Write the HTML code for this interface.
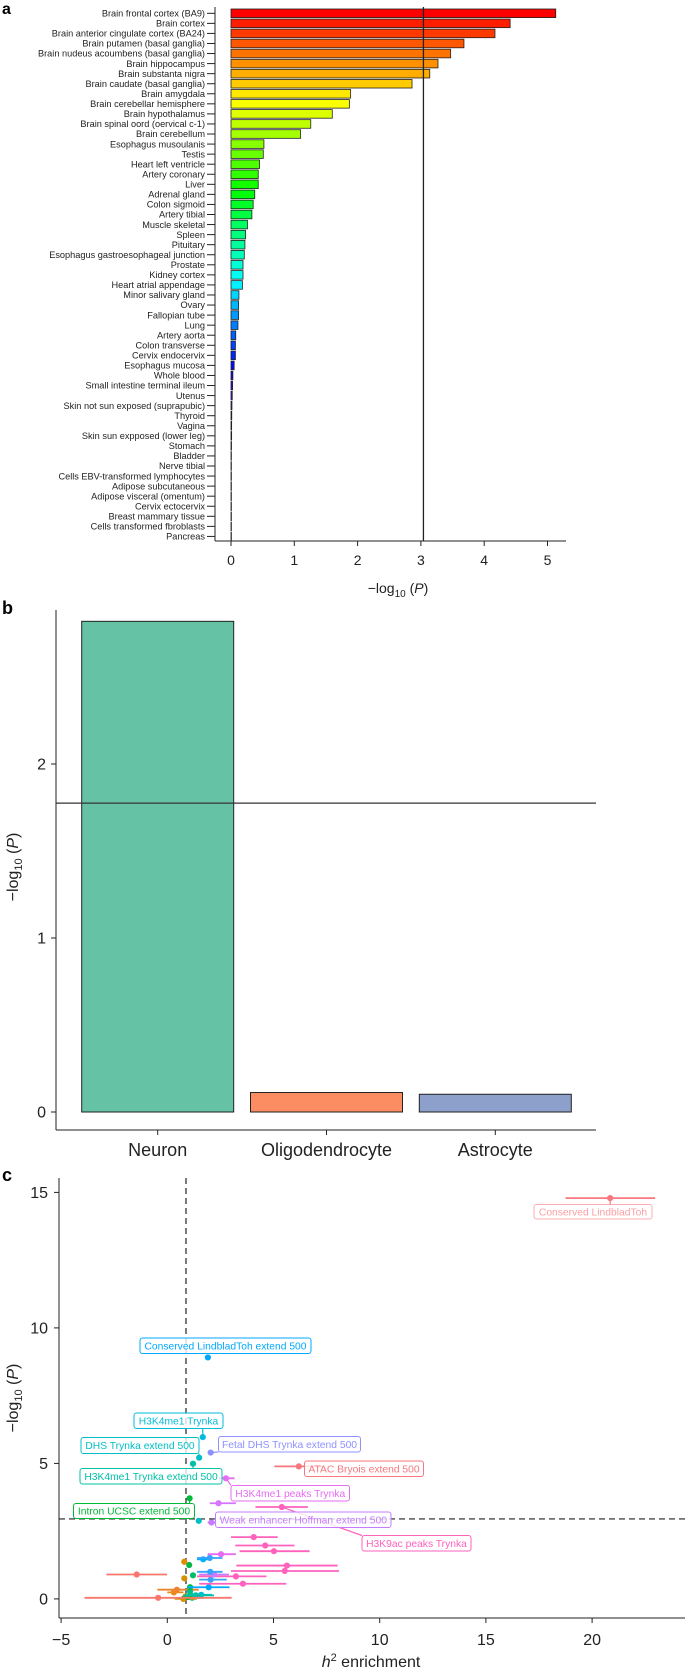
<!DOCTYPE html>
<html><head><meta charset="utf-8">
<style>
html,body{margin:0;padding:0;background:#fff;}
svg{display:block;font-family:"Liberation Sans",Arial,sans-serif;}
</style></head>
<body>
<svg id="fig" width="685" height="1669" viewBox="0 0 685 1669" xmlns="http://www.w3.org/2000/svg">
<text x="2" y="14" font-size="16" font-weight="bold">a</text>
<text x="2" y="614" font-size="18" font-weight="bold">b</text>
<text x="2" y="1181" font-size="18" font-weight="bold">c</text>
<g id="pa"></g>
<g id="pb"></g>
<g id="pc"></g>
</svg>
<script>
// ---------- Panel a data ----------
const tissues = ["Brain frontal cortex (BA9)","Brain cortex","Brain anterior cingulate cortex (BA24)","Brain putamen (basal ganglia)","Brain nudeus acoumbens (basal ganglia)","Brain hippocampus","Brain substanta nigra","Brain caudate (basal ganglia)","Brain amygdala","Brain cerebellar hemisphere","Brain hypothalamus","Brain spinal oord (oervical c-1)","Brain cerebellum","Esophagus musoulanis","Testis","Heart left ventricle","Artery coronary","Liver","Adrenal gland","Colon sigmoid","Artery tibial","Muscle skeletal","Spleen","Pituitary","Esophagus gastroesophageal junction","Prostate","Kidney cortex","Heart atrial appendage","Minor salivary gland","Ovary","Fallopian tube","Lung","Artery aorta","Colon transverse","Cervix endocervix","Esophagus mucosa","Whole blood","Small intestine terminal ileum","Utenus","Skin not sun exposed (suprapubic)","Thyroid","Vagina","Skin sun expposed (lower leg)","Stomach","Bladder","Nerve tibial","Cells EBV-transformed lymphocytes","Adipose subcutaneous","Adipose visceral (omentum)","Cervix ectocervix","Breast mammary tissue","Cells transformed fbroblasts","Pancreas"];
const tissueP = [5.13,4.41,4.17,3.68,3.47,3.27,3.14,2.86,1.89,1.87,1.60,1.26,1.10,0.52,0.51,0.45,0.43,0.43,0.375,0.35,0.33,0.26,0.23,0.22,0.21,0.19,0.19,0.18,0.125,0.12,0.12,0.11,0.075,0.07,0.07,0.05,0.03,0.025,0.02,0.015,0.012,0.01,0.01,0.008,0.006,0.005,0.004,0.004,0.003,0.003,0.002,0.002,0.001];
const tissueTicks = [0,1,2,3,4,5];
const tissueThreshold = 3.04;

// ---------- Panel b data ----------
const cellTypes = ["Neuron","Oligodendrocyte","Astrocyte"];
const cellP = [2.82,0.112,0.102];
const cellColors = ["#66c2a5","#fc8d62","#8da0cb"];
const cellTicks = [0,1,2];
const cellThreshold = 1.775;

// ---------- Panel c data ----------
const enrX  = [20.85,1.91,1.67,1.50,2.04,1.21,6.19,2.76,1.05,5.39,2.08, 2.41,1.48,4.07,4.61,5.02,2.53,2.00,1.69,5.63,5.53,0.80,1.03,-1.44,2.02,2.20,3.23,2.04,1.21,0.80,3.56,1.95,1.07,1.07,0.45,0.31,-0.43,1.34,0.97,0.76,1.17,0.86,1.60,1.25];
const enrLo = [18.75,1.91,1.67,1.50,1.95,1.21,5.04,2.40,1.05,4.15,1.90, 2.00,1.48,3.00,3.20,3.40,1.90,1.40,1.40,3.25,3.00,0.80,1.03,-2.87,1.40,1.50,1.40,1.50,1.21,0.80,1.50,0.95,1.07,1.07,-0.47,0.00,-3.90,0.76,0.70,0.35,0.80,0.70,1.20,0.90];
const enrHi = [22.97,1.91,1.67,1.50,2.20,1.21,7.34,3.17,1.05,6.62,2.30, 3.23,1.48,5.20,5.99,6.70,3.23,2.60,1.99,8.02,8.08,0.80,1.03,-0.01,2.60,2.90,4.67,2.80,1.21,0.80,5.60,2.93,1.07,1.07,1.48,0.76,3.03,2.20,1.30,1.40,1.70,1.10,2.10,1.70];
const enrP  = [14.79,8.91,5.97,5.21,5.40,4.99,4.89,4.45,3.71,3.39,2.82, 3.53,2.88,2.28,1.97,1.76,1.65,1.51,1.46,1.23,1.03,1.37,1.25,0.90,1.00,0.90,0.83,0.71,0.87,0.76,0.56,0.43,0.43,0.27,0.34,0.24,0.04,0.13,0.07,0.00,0.04,0.09,0.15,0.10];
const enrColor = ["#f8767d","#00a9ff","#00bcd8","#00bfc4","#8f91ff","#00c0a8","#f8767d","#e76bf3","#00ba38","#ff62bc","#c77cff", "#d575fe","#00bfc4","#ff62bc","#ff62bc","#ff62bc","#e76bf3","#35a2ff","#00b0f6","#ff62bc","#ff62bc","#e08b00","#00b84a","#f8766d","#35a2ff","#c77cff","#ff62bc","#35a2ff","#00be67","#d39200","#ff62bc","#00a9ff","#00bb4e","#00c08b","#f0842d","#e98a1c","#f8766d","#00c1a3","#00ba38","#d89000","#00c0b0","#c99800","#00bcd8","#00b0f6"];
const enrLabels = ["Conserved LindbladToh","Conserved LindbladToh extend 500","H3K4me1 Trynka","DHS Trynka extend 500","Fetal DHS Trynka extend 500","H3K4me1 Trynka extend 500","ATAC Bryois extend 500","H3K4me1 peaks Trynka","Intron UCSC extend 500","H3K9ac peaks Trynka","Weak enhancer Hoffman extend 500"];
const enrXTicks = [-5,0,5,10,15,20];
const enrYTicks = [0,5,10,15];
const enrVLine = 0.88;
const enrHLine = 2.95;
// label box layout (pixels; layout only)
const labelBoxes = [[534,1204.5,118,14.5],[140,1338,171,15.5],[134,1413,89,15.5],[81,1437.5,118,16],[218.5,1436.5,142,15.5],[80,1468.5,142,15.5],[304.5,1461,119,15.5],[231,1485.5,118.5,15.5],[73.5,1503.5,121,15],[362,1535.5,109,15.5],[215.5,1512,175.5,15.5]];

const NS="http://www.w3.org/2000/svg";
function mk(parent,tag,attrs){const e=document.createElementNS(NS,tag);for(const k in attrs)e.setAttribute(k,attrs[k]);parent.appendChild(e);return e;}

// ===== Panel a =====
(function(){
const g=document.getElementById('pa');
const x=v=>231+v*63.3;
const y=i=>13.3+i*10.06;
let e;
tissues.forEach((t,i)=>{
  const hue=i/53*360;
  e=mk(g,'rect',{x:x(0),y:y(i)-4.3,width:Math.max(x(tissueP[i])-x(0),0.4),height:8.6,fill:`hsl(${hue},100%,50%)`,stroke:'#222','stroke-width':0.8});
  
  
  e=mk(g,'line',{x1:207,x2:215,y1:y(i),y2:y(i),stroke:'#222','stroke-width':1});
  
  
  e=mk(g,'text',{x:205,y:y(i)+3.2,'font-size':9.2,'text-anchor':'end',fill:'#222'});
  e.textContent=t;
  
  
});
e=mk(g,'line',{x1:x(tissueThreshold),x2:x(tissueThreshold),y1:7,y2:541,stroke:'#222','stroke-width':1.3});


e=mk(g,'line',{x1:215,x2:215,y1:7,y2:541,stroke:'#222','stroke-width':1});


e=mk(g,'line',{x1:215,x2:566,y1:541,y2:541,stroke:'#222','stroke-width':1});


tissueTicks.forEach(v=>{
  e=mk(g,'line',{x1:x(v),x2:x(v),y1:541,y2:546,stroke:'#222'});
  
  
  e=mk(g,'text',{x:x(v),y:565,'font-size':14,'text-anchor':'middle',fill:'#222'});
  e.textContent=v;
  
  
});
e=mk(g,'text',{x:398,y:593,'font-size':14,'text-anchor':'middle',fill:'#222'});
e.innerHTML='−log<tspan font-size="10" dy="4">10</tspan><tspan dy="-4"> (</tspan><tspan font-style="italic">P</tspan>)';


})();

// ===== Panel b =====
(function(){
const g=document.getElementById('pb');
const y=v=>1112-v*174;
const cx=i=>157.7+i*168.8;
let e;
cellTypes.forEach((c,i)=>{
  e=mk(g,'rect',{x:cx(i)-76,y:y(cellP[i]),width:152,height:y(0)-y(cellP[i]),fill:cellColors[i],stroke:'#222','stroke-width':1});
  
  
  e=mk(g,'line',{x1:cx(i),x2:cx(i),y1:1130,y2:1135,stroke:'#222'});
  
  
  e=mk(g,'text',{x:cx(i),y:1156,'font-size':18,'text-anchor':'middle',fill:'#222'});
  e.textContent=c;
  
  
});
e=mk(g,'line',{x1:56,x2:596,y1:y(cellThreshold),y2:y(cellThreshold),stroke:'#333','stroke-width':1.3});


e=mk(g,'line',{x1:56,x2:56,y1:610,y2:1130,stroke:'#222'});


e=mk(g,'line',{x1:56,x2:596,y1:1130,y2:1130,stroke:'#222'});


cellTicks.forEach(v=>{
  e=mk(g,'line',{x1:51,x2:56,y1:y(v),y2:y(v),stroke:'#222'});
  
  
  e=mk(g,'text',{x:46,y:y(v)+5.5,'font-size':16,'text-anchor':'end',fill:'#222'});
  e.textContent=v;
  
  
});
e=mk(g,'text',{x:0,y:0,'font-size':16,'text-anchor':'middle',fill:'#222',transform:'translate(18,867) rotate(-90)'});
e.innerHTML='−log<tspan font-size="11" dy="4">10</tspan><tspan dy="-4"> (</tspan><tspan font-style="italic">P</tspan>)';


})();

// ===== Panel c =====
(function(){
const g=document.getElementById('pc');
const x=v=>167.3+v*21.24;
const y=v=>1598.9-v*27.1;
let e;
e=mk(g,'line',{x1:x(enrVLine),x2:x(enrVLine),y1:1178,y2:1618,stroke:'#222','stroke-width':1.2,'stroke-dasharray':'6,4'});


e=mk(g,'line',{x1:59,x2:685,y1:y(enrHLine),y2:y(enrHLine),stroke:'#222','stroke-width':1.2,'stroke-dasharray':'6,4'});


const order=[...enrX.keys()].reverse();
order.forEach(i=>{
  const c=enrColor[i];
  e=mk(g,'line',{x1:x(enrLo[i]),x2:x(enrHi[i]),y1:y(enrP[i]),y2:y(enrP[i]),stroke:c,'stroke-width':1.8});
  
  
  e=mk(g,'circle',{cx:x(enrX[i]),cy:y(enrP[i]),r:3.1,fill:c});
  
  
});
enrLabels.forEach((t,i)=>{
  const [bx,by,bw,bh]=labelBoxes[i];
  const px=x(enrX[i]),py=y(enrP[i]);
  const nx=Math.min(Math.max(px,bx),bx+bw),ny=Math.min(Math.max(py,by),by+bh);
  if(Math.hypot(px-nx,py-ny)>4){
    e=mk(g,'line',{x1:px,y1:py,x2:nx,y2:ny,stroke:enrColor[i],'stroke-width':1.2});
    
    
  }
  e=mk(g,'rect',{x:bx,y:by,width:bw,height:bh,rx:2.5,fill:'rgba(255,255,255,0.8)',stroke:enrColor[i],'stroke-width':1,'stroke-opacity':i==0?0.6:1});
  
  
  e=mk(g,'text',{x:bx+bw/2,y:by+bh/2+3.7,'font-size':10.3,'text-anchor':'middle',fill:enrColor[i],'fill-opacity':i==0?0.7:1});
  e.textContent=t;
  
  
});
e=mk(g,'line',{x1:59,x2:59,y1:1178,y2:1618,stroke:'#222'});


e=mk(g,'line',{x1:59,x2:685,y1:1618,y2:1618,stroke:'#222'});


enrXTicks.forEach(v=>{
  e=mk(g,'line',{x1:x(v),x2:x(v),y1:1618,y2:1623,stroke:'#222'});
  
  
  e=mk(g,'text',{x:x(v),y:1645,'font-size':16,'text-anchor':'middle',fill:'#222'});
  e.textContent=v<0?'−'+(-v):v;
  
  
});
enrYTicks.forEach(v=>{
  e=mk(g,'line',{x1:54,x2:59,y1:y(v),y2:y(v),stroke:'#222'});
  
  
  e=mk(g,'text',{x:48,y:y(v)+5.5,'font-size':16,'text-anchor':'end',fill:'#222'});
  e.textContent=v;
  
  
});
e=mk(g,'text',{x:371,y:1667,'font-size':16,'text-anchor':'middle',fill:'#222'});
e.innerHTML='<tspan font-style="italic">h</tspan><tspan font-size="11" dy="-6">2</tspan><tspan dy="6"> enrichment</tspan>';


e=mk(g,'text',{x:0,y:0,'font-size':16,'text-anchor':'middle',fill:'#222',transform:'translate(18,1398) rotate(-90)'});
e.innerHTML='−log<tspan font-size="11" dy="4">10</tspan><tspan dy="-4"> (</tspan><tspan font-style="italic">P</tspan>)';


})();
</script>
</body></html>
